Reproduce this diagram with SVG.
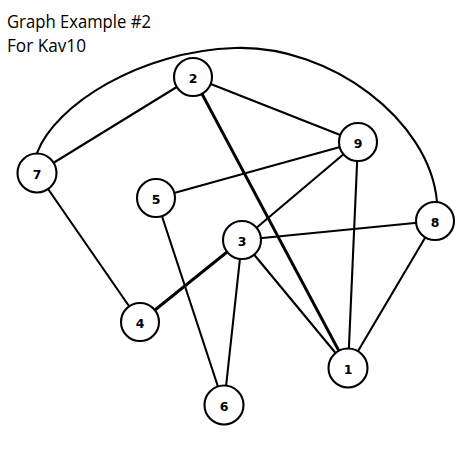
<svg xmlns="http://www.w3.org/2000/svg" width="474" height="474" viewBox="0 0 474 474">
<style>
.e{stroke:#000;stroke-width:2.1;fill:none;stroke-linecap:round}
.t{stroke-width:2.9}
.n circle{fill:#fff;stroke:#000;stroke-width:2.1}
.n text{font-family:"DejaVu Sans","Liberation Sans",sans-serif;font-weight:bold;font-size:12.5px;text-anchor:middle;dominant-baseline:central}
.title{font-family:"Open Sans","Liberation Sans",sans-serif;font-size:18px;fill:#000}
</style>
<rect width="474" height="474" fill="#fff"/>
<text class="title" x="7" y="28" textLength="144" lengthAdjust="spacingAndGlyphs">Graph Example #2</text>
<text class="title" x="7" y="52" textLength="79" lengthAdjust="spacingAndGlyphs">For Kav10</text>
<g id="connectors">
<path class="e" d="M37,153 C55,105 140,51 235,48 C330,45 430,120 437,202"/>
<line class="e" x1="193" y1="77" x2="37" y2="173"/>
<line class="e" x1="193" y1="77" x2="358" y2="142"/>
<line class="e t" x1="193" y1="77" x2="348" y2="368"/>
<line class="e" x1="358" y1="142" x2="156" y2="198"/>
<line class="e" x1="358" y1="142" x2="242" y2="240"/>
<line class="e" x1="358" y1="142" x2="348" y2="368"/>
<line class="e" x1="37" y1="173" x2="140" y2="322"/>
<line class="e" x1="156" y1="198" x2="224" y2="405"/>
<line class="e" x1="242" y1="240" x2="435" y2="221"/>
<line class="e t" x1="242" y1="240" x2="140" y2="322"/>
<line class="e" x1="242" y1="240" x2="224" y2="405"/>
<line class="e" x1="242" y1="240" x2="348" y2="368"/>
<line class="e" x1="435" y1="221" x2="348" y2="368"/>
</g>
<g id="node2" class="n"><circle cx="193" cy="77" r="19"/><text x="193" y="78">2</text></g>
<g id="node9" class="n"><circle cx="358" cy="142" r="19"/><text x="358" y="143">9</text></g>
<g id="node7" class="n"><circle cx="37" cy="173" r="19.5"/><text x="37" y="174">7</text></g>
<g id="node5" class="n"><circle cx="156" cy="198" r="19"/><text x="156" y="199">5</text></g>
<g id="node8" class="n"><circle cx="435" cy="221" r="19"/><text x="435" y="222">8</text></g>
<g id="node3" class="n"><circle cx="242" cy="240" r="19"/><text x="242" y="241">3</text></g>
<g id="node4" class="n"><circle cx="140" cy="322" r="19"/><text x="140" y="323">4</text></g>
<g id="node1" class="n"><circle cx="348" cy="368" r="19.5"/><text x="348" y="369">1</text></g>
<g id="node6" class="n"><circle cx="224" cy="405" r="19.5"/><text x="224" y="406">6</text></g>
</svg>
